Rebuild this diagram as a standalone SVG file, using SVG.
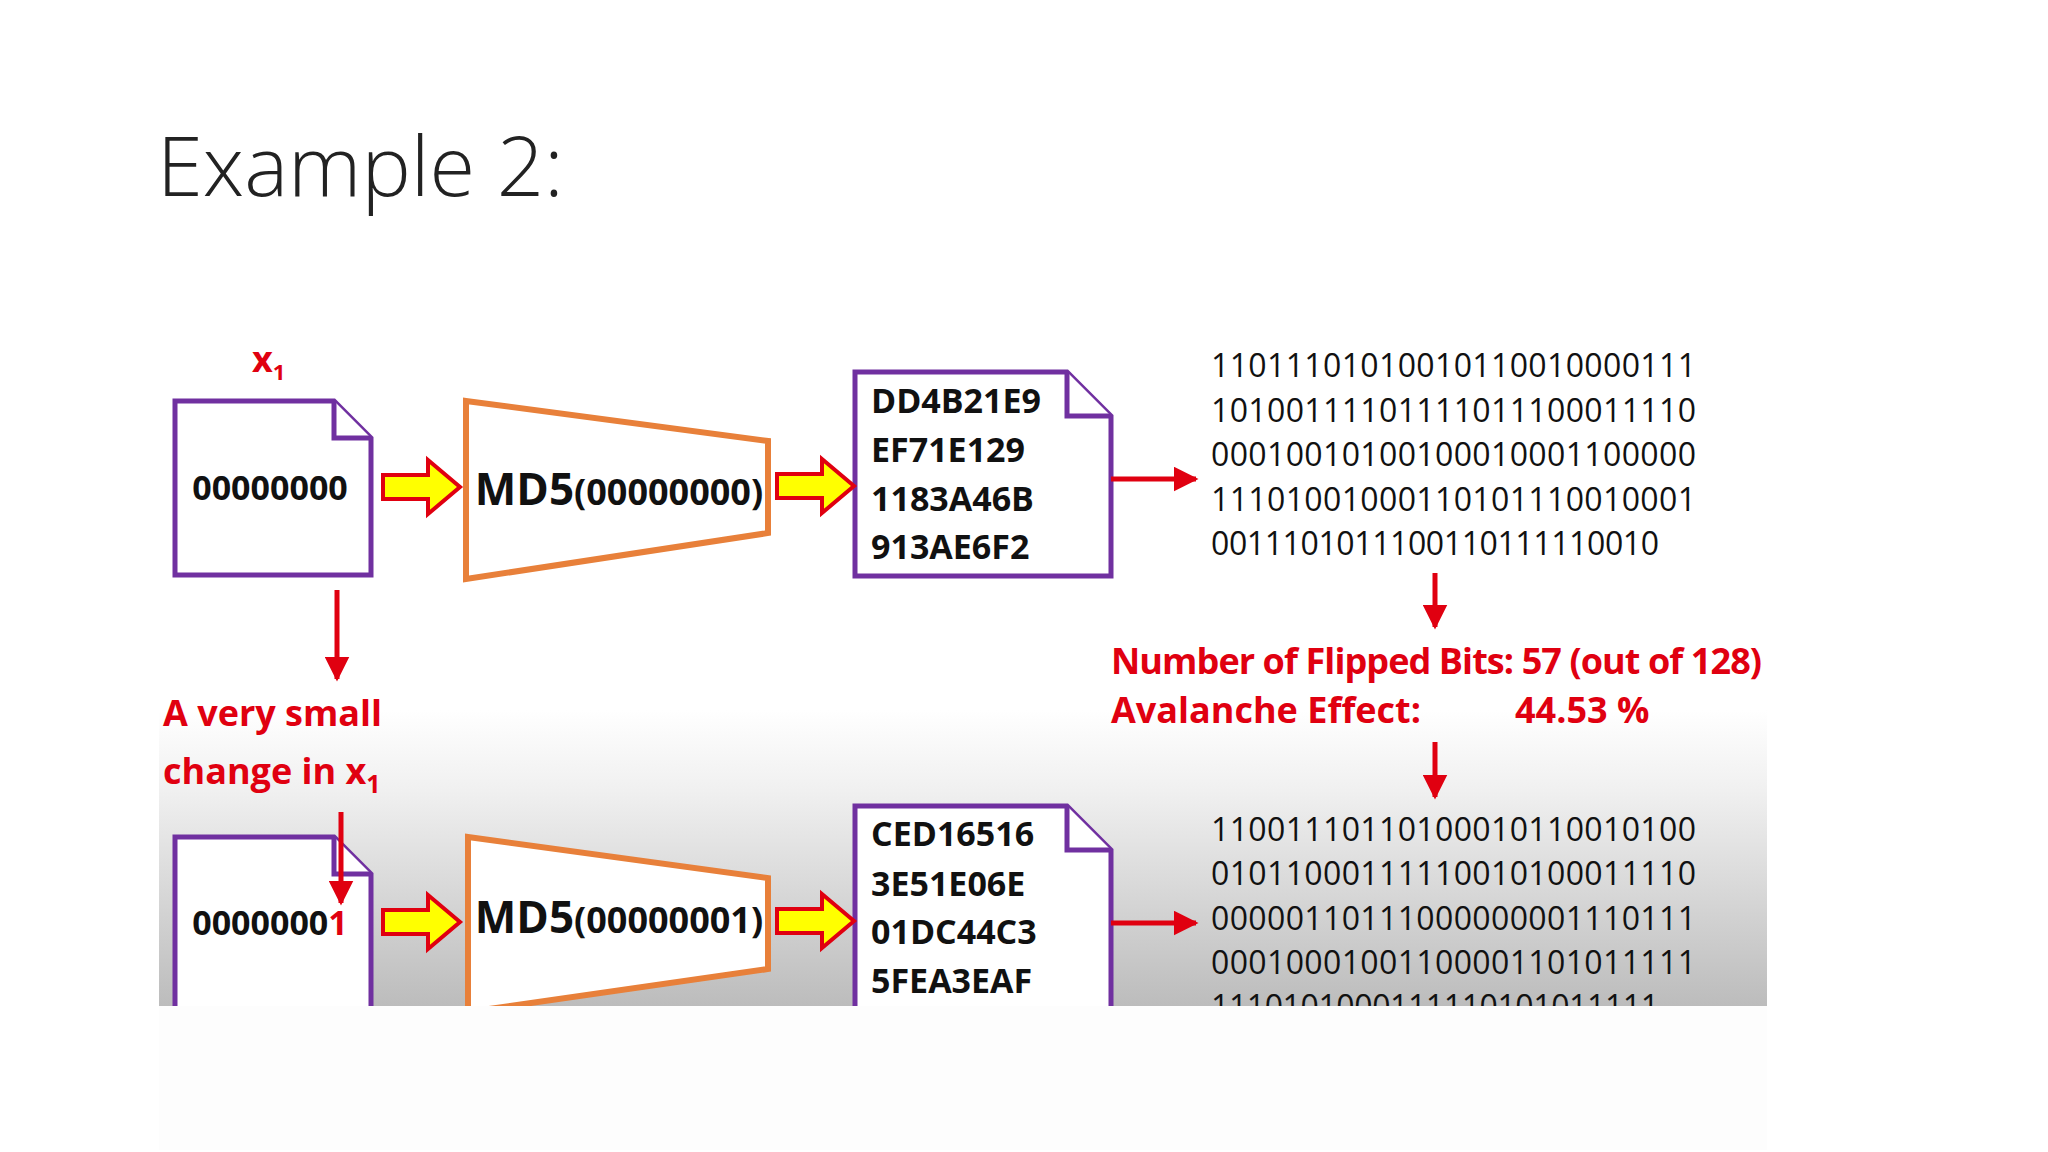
<svg xmlns="http://www.w3.org/2000/svg" width="2048" height="1152" viewBox="0 0 2048 1152">
<style>
.doc{fill:#fff;stroke:#7030a0;stroke-width:5}
.fold{fill:#fff;stroke:#7030a0;stroke-width:5;stroke-linejoin:miter}
.trap{fill:#fff;stroke:#e8803a;stroke-width:6}
.hex{font-family:"Open Sans","Liberation Sans",sans-serif;font-weight:bold;font-size:34px;fill:#111}
.bin{font-family:"Open Sans","Liberation Sans",sans-serif;font-size:32px;fill:#111}
.red{font-family:"Open Sans","Liberation Sans",sans-serif;font-weight:bold;font-size:36px;fill:#e00010}
.md{font-family:"Open Sans","Liberation Sans",sans-serif;font-weight:bold;fill:#111}
.ln{stroke:#e00010;stroke-width:5;fill:none}
</style>
<defs>
<linearGradient id="bg" x1="0" y1="0" x2="0" y2="1">
<stop offset="0" stop-color="#ffffff"/><stop offset="0.56" stop-color="#ffffff"/><stop offset="0.68" stop-color="#f0f0f0"/><stop offset="1" stop-color="#bcbcbc"/>
</linearGradient>
<clipPath id="clip"><rect x="159" y="333" width="1608" height="673"/></clipPath>
<polygon id="ya" points="0,-12 45,-12 45,-27 77,0 45,27 45,12 0,12" fill="#ffff00" stroke="#e00010" stroke-width="4" stroke-linejoin="miter"/>
<marker id="ah" viewBox="0 0 10 10" refX="9" refY="5" markerWidth="5" markerHeight="5" orient="auto" markerUnits="strokeWidth"><path d="M0,0 L10,5 L0,10 z" fill="#e00010"/></marker>
</defs>
<rect width="2048" height="1152" fill="#fff"/>
<text x="157" y="196" font-family="'Open Sans','Liberation Sans',sans-serif" font-size="83" font-weight="300" fill="#222">Example 2:</text>
<rect x="159" y="1006" width="1608" height="144" fill="#fdfdfd"/>
<g clip-path="url(#clip)">
<rect x="159" y="333" width="1608" height="673" fill="url(#bg)"/>
<g id="x1label"><text class="red" x="252" y="372">x<tspan font-size="22" dy="8">1</tspan></text></g>
<g id="doc1">
<path class="doc" d="M175,401 H334 L371,438 V575 H175 Z"/>
<path class="fold" d="M334,401 V438 H371"/>
<text class="hex" x="270" y="500" text-anchor="middle">00000000</text>
</g>
<g id="md5a">
<polygon class="trap" points="466,401 768,441 768,533 466,579"/>
<text class="md" x="619" y="505" text-anchor="middle"><tspan font-size="44">MD5</tspan><tspan font-size="36">(00000000)</tspan></text>
</g>
<g id="hash1">
<path class="doc" d="M855,372 H1067 L1111,416 V576 H855 Z"/>
<path class="fold" d="M1067,372 V416 H1111"/>
<text class="hex" x="871" y="413">DD4B21E9</text>
<text class="hex" x="871" y="462">EF71E129</text>
<text class="hex" x="871" y="511">1183A46B</text>
<text class="hex" x="871" y="559">913AE6F2</text>
</g>
<g id="bin1">
<text class="bin" x="1211" y="377" textLength="485">11011101010010110010000111</text>
<text class="bin" x="1211" y="422" textLength="485">10100111101111011100011110</text>
<text class="bin" x="1211" y="466" textLength="485">00010010100100010001100000</text>
<text class="bin" x="1211" y="511" textLength="485">11101001000110101110010001</text>
<text class="bin" x="1211" y="555" textLength="448">0011101011100110111110010</text>
</g>
<g id="stats">
<text class="red" x="1111" y="674" textLength="651">Number of Flipped Bits: 57 (out of 128)</text>
<text class="red" x="1111" y="723">Avalanche Effect:</text>
<text class="red" x="1515" y="723">44.53 %</text>
</g>
<g id="change">
<text class="red" x="163" y="726" font-size="39">A very small</text>
<text class="red" x="163" y="784" font-size="39">change in x<tspan font-size="25" dy="9">1</tspan></text>
</g>
<g id="doc2">
<path class="doc" d="M175,837 H334 L371,874 V1020 H175 Z"/>
<path class="fold" d="M334,837 V874 H371"/>
<text class="hex" x="270" y="935" text-anchor="middle">0000000<tspan fill="#e00010">1</tspan></text>
</g>
<g id="md5b">
<polygon class="trap" points="468,837 768,878 768,969 468,1012"/>
<text class="md" x="619" y="933" text-anchor="middle"><tspan font-size="44">MD5</tspan><tspan font-size="36">(00000001)</tspan></text>
</g>
<g id="hash2">
<path class="doc" d="M855,806 H1067 L1111,850 V1020 H855 Z"/>
<path class="fold" d="M1067,806 V850 H1111"/>
<text class="hex" x="871" y="846">CED16516</text>
<text class="hex" x="871" y="896">3E51E06E</text>
<text class="hex" x="871" y="944">01DC44C3</text>
<text class="hex" x="871" y="993">5FEA3EAF</text>
</g>
<g id="bin2">
<text class="bin" x="1211" y="841" textLength="485">11001110110100010110010100</text>
<text class="bin" x="1211" y="885" textLength="485">01011000111110010100011110</text>
<text class="bin" x="1211" y="930" textLength="485">00000110111000000001110111</text>
<text class="bin" x="1211" y="974" textLength="485">00010001001100001101011111</text>
<text class="bin" x="1211" y="1018" textLength="448">1110101000111110101011111</text>
</g>
<g id="connectors">
<use href="#ya" x="383" y="487"/>
<use href="#ya" x="777" y="486"/>
<use href="#ya" x="383" y="922"/>
<use href="#ya" x="777" y="921"/>
<line class="ln" x1="1111" y1="479" x2="1196" y2="479" marker-end="url(#ah)"/>
<line class="ln" x1="1111" y1="923" x2="1196" y2="923" marker-end="url(#ah)"/>
<line class="ln" x1="1435" y1="573" x2="1435" y2="627" marker-end="url(#ah)"/>
<line class="ln" x1="1435" y1="742" x2="1435" y2="797" marker-end="url(#ah)"/>
<line class="ln" x1="337" y1="590" x2="337" y2="679" marker-end="url(#ah)"/>
<line class="ln" x1="341" y1="812" x2="341" y2="903" marker-end="url(#ah)"/>
</g>
</g>
</svg>
